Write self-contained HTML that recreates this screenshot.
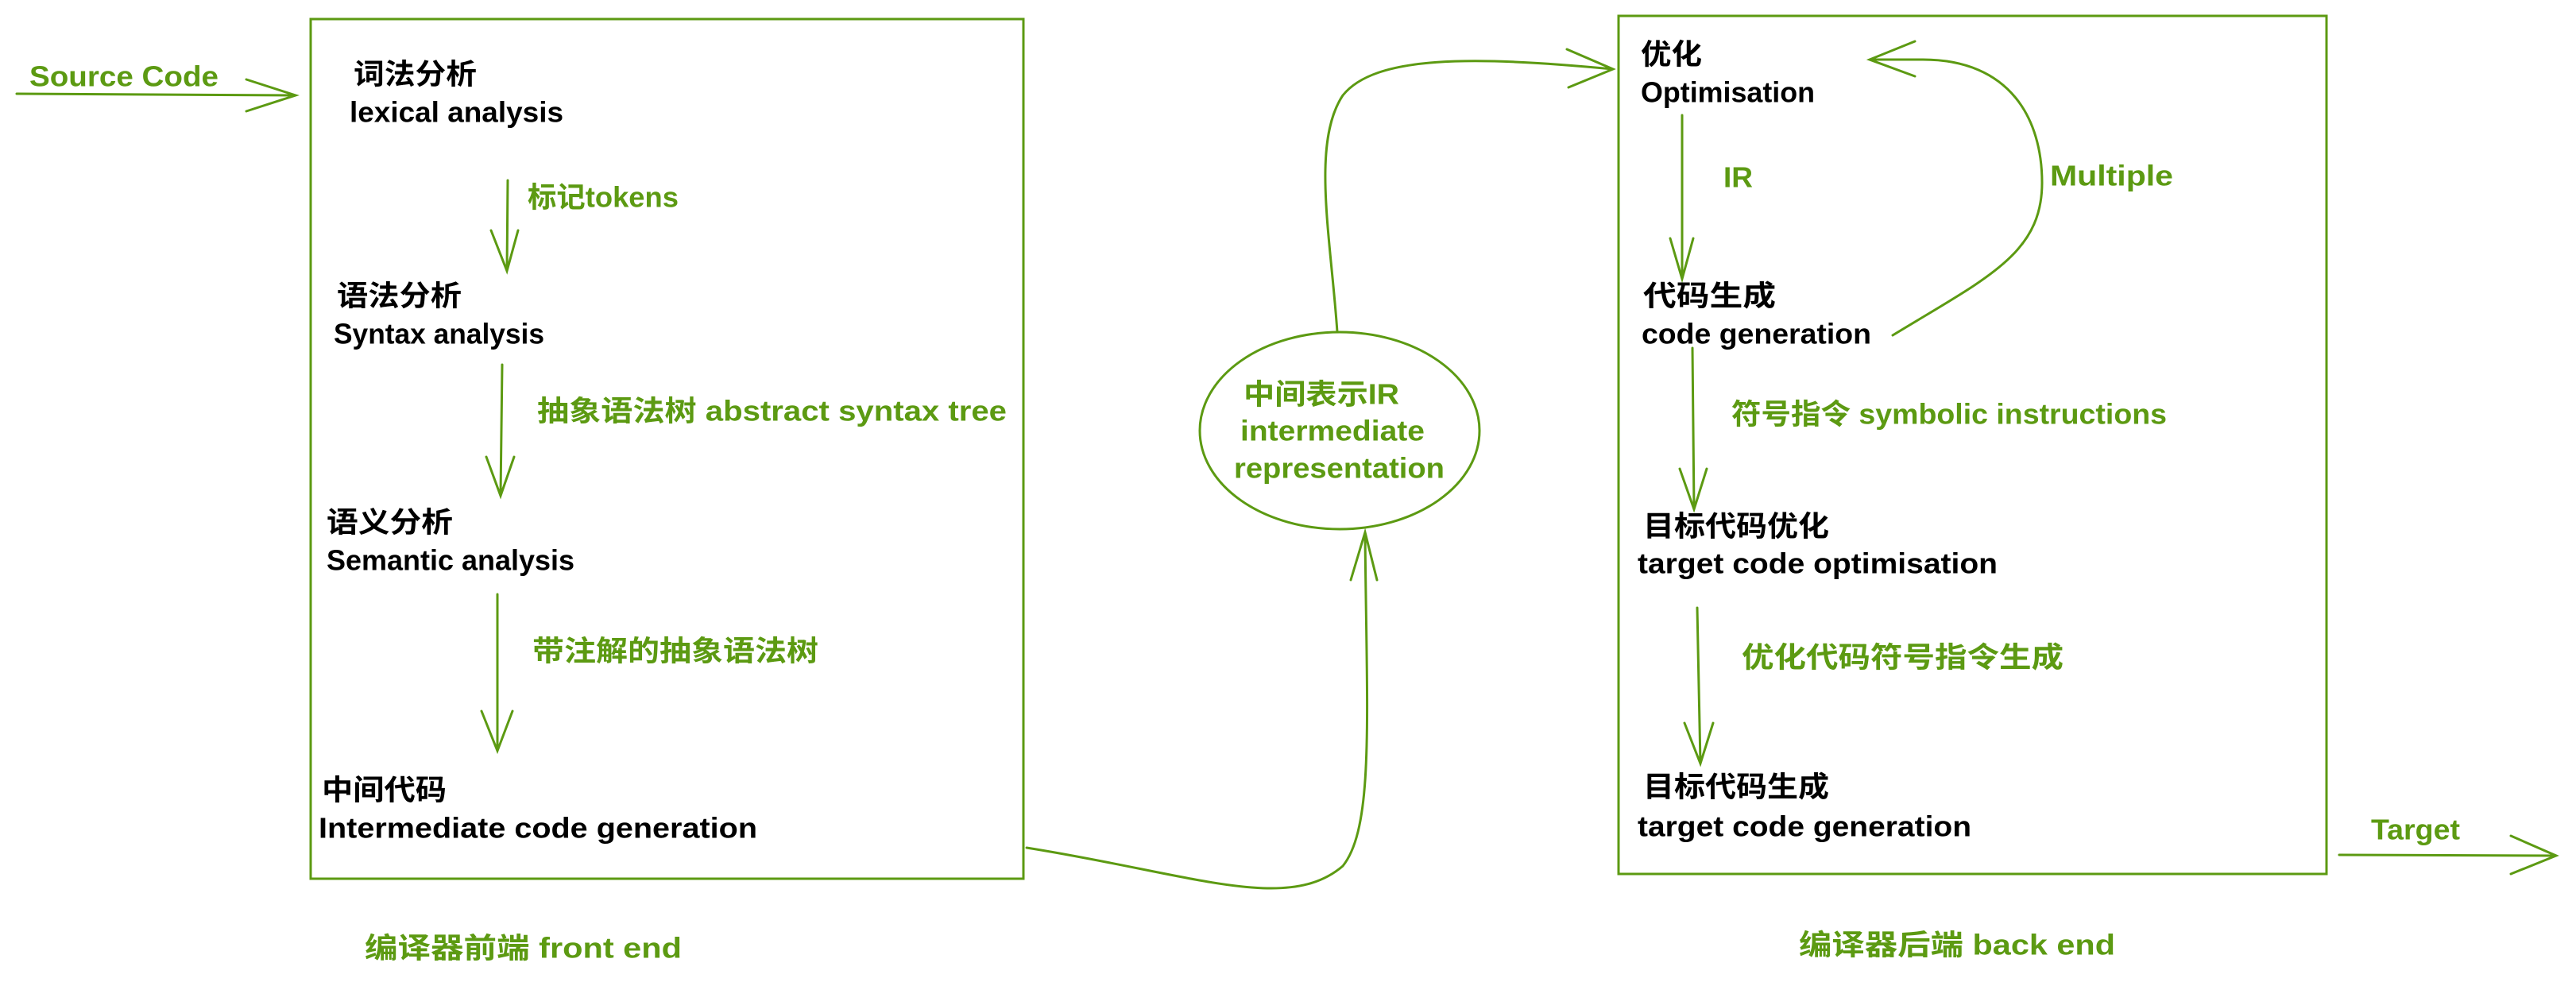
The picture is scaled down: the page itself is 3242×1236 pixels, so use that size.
<!DOCTYPE html>
<html><head><meta charset="utf-8"><style>
html,body{margin:0;padding:0;background:#fff;}
svg{display:block;}
text{font-family:"Liberation Sans","Noto Sans CJK SC",sans-serif;dominant-baseline:central;font-weight:bold;}
.k{fill:#000;font-size:36px;}
.g{fill:#5c9a12;font-size:36px;}
</style></head><body>
<svg width="3242" height="1236" viewBox="0 0 3242 1236" xmlns="http://www.w3.org/2000/svg">
<g fill="none" stroke="#5c9a12" stroke-width="3" stroke-linecap="round">
<rect x="391" y="24" width="897" height="1082"/>
<rect x="2037" y="20" width="891" height="1080"/>
<path d="M21 118 L372 120 M310 100 L372 120 L310 140"/>
<path d="M639 227 L638 341 M618 290 L638 341 L652 290"/>
<path d="M632 459 L630 624 M612 575 L630 624 L647 575"/>
<path d="M626 748 L626 945 M606 895 L626 945 L645 895"/>
<path d="M1292 1067 C1500 1100,1620 1150,1690 1090 C1730 1040,1720 900,1718 670 M1700 730 L1718 670 L1733 730"/>
<ellipse cx="1686" cy="542" rx="176" ry="124"/>
<path d="M1683 418 C1675 300,1650 180,1690 120 C1730 70,1850 70,2030 87 M1972 62 L2030 87 L1974 110"/>
<path d="M2117 145 L2117 351 M2102 300 L2117 351 L2131 300"/>
<path d="M2130 438 L2132 641 M2114 590 L2132 641 L2148 590"/>
<path d="M2136 765 L2140 961 M2120 910 L2140 961 L2156 910"/>
<path d="M2382 422 C2500 350,2570 320,2570 230 C2570 150,2530 75,2420 75 L2353 75 M2410 52 L2353 75 L2410 96"/>
<path d="M2944 1076 L3217 1077 M3160 1052 L3217 1077 L3160 1100"/>
</g>
<text class="g" x="37" y="96" textLength="238" lengthAdjust="spacingAndGlyphs">Source Code</text>
<text class="k" x="445" y="93" textLength="155" lengthAdjust="spacingAndGlyphs">词法分析</text>
<text class="k" x="440" y="141" textLength="269" lengthAdjust="spacingAndGlyphs">lexical analysis</text>
<text class="g" x="664" y="248" textLength="190" lengthAdjust="spacingAndGlyphs">标记tokens</text>
<text class="k" x="424" y="372" textLength="157" lengthAdjust="spacingAndGlyphs">语法分析</text>
<text class="k" x="420" y="420" textLength="265" lengthAdjust="spacingAndGlyphs">Syntax analysis</text>
<text class="g" x="676" y="517" textLength="591" lengthAdjust="spacingAndGlyphs">抽象语法树 abstract syntax tree</text>
<text class="k" x="411" y="657" textLength="159" lengthAdjust="spacingAndGlyphs">语义分析</text>
<text class="k" x="411" y="705" textLength="312" lengthAdjust="spacingAndGlyphs">Semantic analysis</text>
<text class="g" x="670" y="819" textLength="360" lengthAdjust="spacingAndGlyphs">带注解的抽象语法树</text>
<text class="k" x="405" y="994" textLength="157" lengthAdjust="spacingAndGlyphs">中间代码</text>
<text class="k" x="401" y="1042" textLength="552" lengthAdjust="spacingAndGlyphs">Intermediate code generation</text>
<text class="g" x="459" y="1193" textLength="399" lengthAdjust="spacingAndGlyphs">编译器前端 front end</text>
<text class="g" x="1565" y="496" textLength="196" lengthAdjust="spacingAndGlyphs">中间表示IR</text>
<text class="g" x="1561" y="542" textLength="232" lengthAdjust="spacingAndGlyphs">intermediate</text>
<text class="g" x="1553" y="589" textLength="265" lengthAdjust="spacingAndGlyphs">representation</text>
<text class="k" x="2065" y="68" textLength="77" lengthAdjust="spacingAndGlyphs">优化</text>
<text class="k" x="2065" y="116" textLength="219" lengthAdjust="spacingAndGlyphs">Optimisation</text>
<text class="g" x="2169" y="223" textLength="37" lengthAdjust="spacingAndGlyphs">IR</text>
<text class="g" x="2580" y="221" textLength="155" lengthAdjust="spacingAndGlyphs">Multiple</text>
<text class="k" x="2068" y="372" textLength="167" lengthAdjust="spacingAndGlyphs">代码生成</text>
<text class="k" x="2066" y="420" textLength="289" lengthAdjust="spacingAndGlyphs">code generation</text>
<text class="g" x="2179" y="521" textLength="548" lengthAdjust="spacingAndGlyphs">符号指令 symbolic instructions</text>
<text class="k" x="2068" y="662" textLength="234" lengthAdjust="spacingAndGlyphs">目标代码优化</text>
<text class="k" x="2061" y="709" textLength="453" lengthAdjust="spacingAndGlyphs">target code optimisation</text>
<text class="g" x="2192" y="827" textLength="405" lengthAdjust="spacingAndGlyphs">优化代码符号指令生成</text>
<text class="k" x="2068" y="990" textLength="234" lengthAdjust="spacingAndGlyphs">目标代码生成</text>
<text class="k" x="2061" y="1040" textLength="420" lengthAdjust="spacingAndGlyphs">target code generation</text>
<text class="g" x="2984" y="1044" textLength="112" lengthAdjust="spacingAndGlyphs">Target</text>
<text class="g" x="2264" y="1189" textLength="398" lengthAdjust="spacingAndGlyphs">编译器后端 back end</text>
</svg>
</body></html>
